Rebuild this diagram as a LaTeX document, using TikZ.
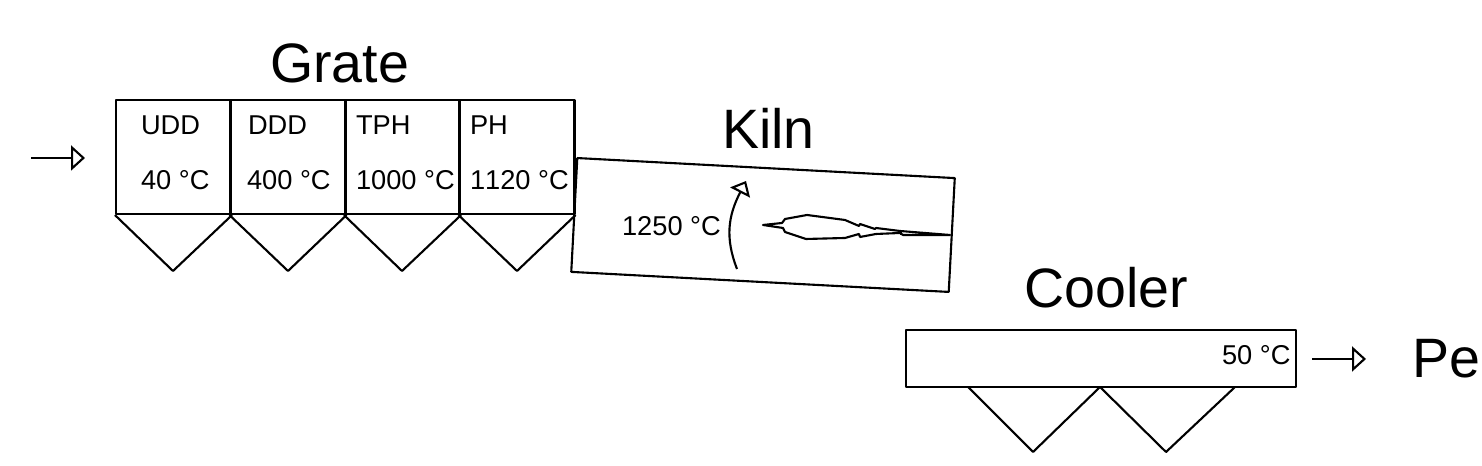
\documentclass[tikz,border=0pt]{standalone}
\usepackage{fontspec}
\setmainfont[Kerning=Off]{Liberation Sans}
\usetikzlibrary{arrows.meta}
\tikzset{cell/.style={draw, minimum width=1.15cm, minimum height=1.14cm, inner sep=0pt}}
\tikzset{small text/.style={font=\fontsize{7.75pt}{9pt}\selectfont, inner sep=0pt, anchor=west}}
\tikzset{big text/.style={font=\fontsize{15.8pt}{18pt}\selectfont, inner sep=0pt}}
\tikzset{open arrow/.style={-{Triangle[open, length=0.14cm, width=0.25cm]}}}

\begin{document}
\begin{tikzpicture}[line width=0.6pt, line join=round]
        \useasboundingbox (0,0) rectangle (14.82,4.66);
        \node [big text] (grate) at (3.395,4.03) {Grate};
        \node [cell] (udd) at (1.735,3.09) {};
        \node [cell] (ddd) at (2.88,3.09) {};
        \node [cell] (tph) at (4.025,3.09) {};
        \node [cell] (ph) at (5.17,3.09) {};
        \node [small text] (uddname) at (1.40,3.41) {UDD};
        \node [small text] (dddname) at (2.47,3.41) {DDD};
        \node [small text] (tphname) at (3.55,3.41) {TPH};
        \node [small text] (phname) at (4.69,3.41) {PH};
        \node [small text] (uddtemp) at (1.40,2.855) {40 °C};
        \node [small text] (dddtemp) at (2.46,2.855) {400 °C};
        \node [small text] (tphtemp) at (3.55,2.855) {1000 °C};
        \node [small text] (phtemp) at (4.69,2.855) {1120 °C};
        \coordinate (uddtip) at (1.73,1.95);
        \coordinate (dddtip) at (2.88,1.95);
        \coordinate (tphtip) at (4.02,1.95);
        \coordinate (phtip) at (5.17,1.95);
        \draw (udd.south west) -- (uddtip) -- (udd.south east);
        \draw (ddd.south west) -- (dddtip) -- (ddd.south east);
        \draw (tph.south west) -- (tphtip) -- (tph.south east);
        \draw (ph.south west) -- (phtip) -- (ph.south east);
        \coordinate (feedstart) at (0.31,3.08);
        \coordinate (feedend) at (0.85,3.08);
        \draw [open arrow] (feedstart) -- (feedend);
        % kiln
        \node [big text] (kilnname) at (7.685,3.38) {Kiln};
        \node [draw, rotate=-3.04, minimum width=3.78cm, minimum height=1.14cm, inner sep=0pt] (kiln) at (7.63,2.41) {};
        \node [small text] (kilntemp) at (6.21,2.40) {1250 °C};
        \coordinate (turnstart) at (7.37,1.97);
        \coordinate (turnend) at (7.46,2.85);
        \draw [-{Triangle[open, length=0.13cm, width=0.22cm]}] (turnstart) .. controls (7.25,2.28) and (7.28,2.50) .. (turnend);
        \draw (7.63,2.41) -- (7.82,2.43) -- (7.85,2.47) -- (8.07,2.51) -- (8.45,2.46) -- (8.59,2.40) -- (8.60,2.42) -- (8.75,2.37) -- (8.76,2.38) -- (9.00,2.35) -- (9.50,2.31) -- (9.03,2.31) -- (9.00,2.33) -- (8.76,2.32) -- (8.60,2.29) -- (8.59,2.32) -- (8.45,2.28) -- (8.06,2.27) -- (7.85,2.34) -- (7.83,2.38) -- cycle;
        \draw (9.01,2.35) -- (9.01,2.31);
        % cooler
        \node [big text] (coolername) at (11.065,1.78) {Cooler};
        \node [draw, minimum width=3.90cm, minimum height=0.57cm, inner sep=0pt] (cooler) at (11.01,1.075) {};
        \node [small text] (coolertemp) at (12.21,1.105) {50 °C};
        \coordinate (hopa) at (9.68,0.79);
        \coordinate (hopb) at (11.00,0.79);
        \coordinate (hopc) at (12.35,0.79);
        \coordinate (tipa) at (10.33,0.14);
        \coordinate (tipb) at (11.66,0.14);
        \draw (hopa) -- (tipa) -- (hopb) -- (tipb) -- (hopc);
        \node [big text, anchor=west] (pe) at (14.11,1.07) {Pe};
        \coordinate (outstart) at (13.12,1.07);
        \coordinate (outend) at (13.66,1.07);
        \draw [open arrow] (outstart) -- (outend);
    \end{tikzpicture}
\end{document}
